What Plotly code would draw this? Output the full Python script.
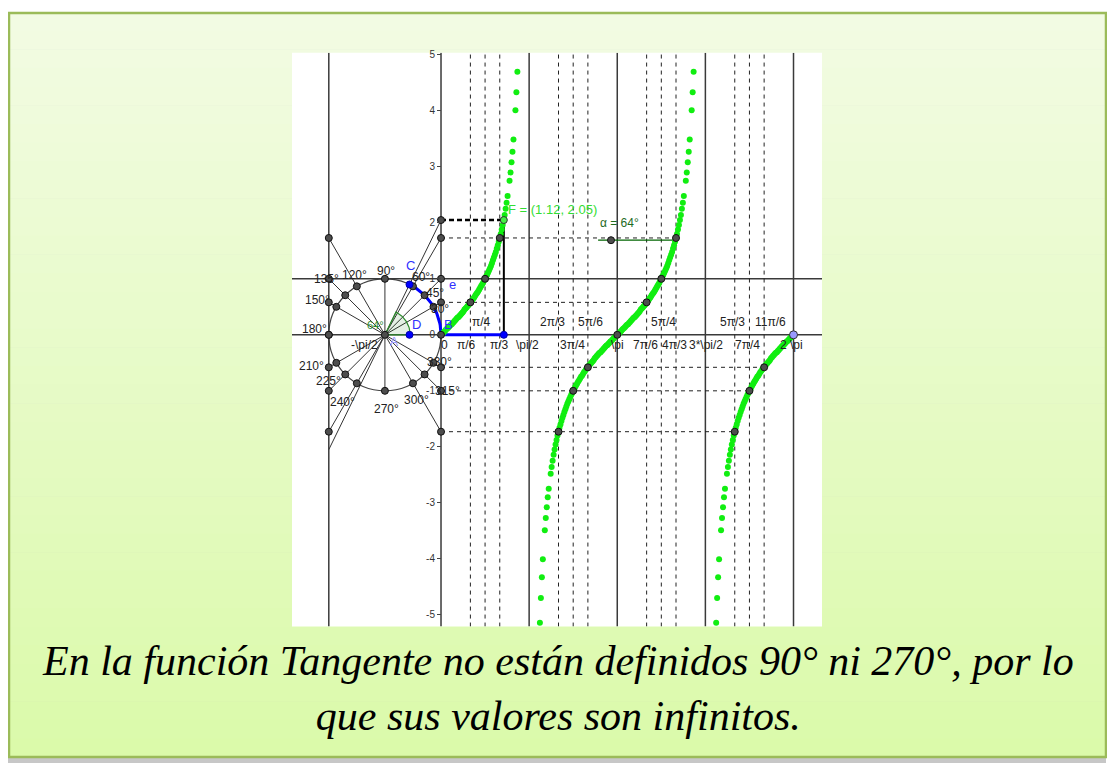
import numpy as np
import plotly.graph_objects as go

W, H = 1115, 776
# the page body adds a small margin, so the figure is drawn a bit smaller and
# all screen positions are shifted by this offset
OX, OY = 8, 10
FW, FH = W - 2 * OX, H - OY - 8

# ---------------- values ----------------
# green trace: one dot per degree, tan for 0..79 deg (other branches mirror it)
TAN_TABLE = [0.00, 0.02, 0.03, 0.05, 0.07, 0.09, 0.11, 0.12, 0.14, 0.16,
             0.18, 0.19, 0.21, 0.23, 0.25, 0.27, 0.29, 0.31, 0.32, 0.34,
             0.36, 0.38, 0.40, 0.42, 0.45, 0.47, 0.49, 0.51, 0.53, 0.55,
             0.58, 0.60, 0.62, 0.65, 0.67, 0.70, 0.73, 0.75, 0.78, 0.81,
             0.84, 0.87, 0.90, 0.93, 0.97, 1.00, 1.04, 1.07, 1.11, 1.15,
             1.19, 1.23, 1.28, 1.33, 1.38, 1.43, 1.48, 1.54, 1.60, 1.66,
             1.73, 1.80, 1.88, 1.96, 2.05, 2.14, 2.25, 2.36, 2.48, 2.61,
             2.75, 2.90, 3.08, 3.27, 3.49, 3.73, 4.01, 4.33, 4.70, 5.14]
SKIPPED = [69, 75]                       # frames missing from the trace
BRANCHES = [(0, 78), (101, 258), (281, 360)]

SPECIAL_DEG = [30, 45, 60, 120, 135, 150, 210, 225, 240, 300, 315, 330]
SPECIAL_TAN = [0.58, 1.00, 1.73, -1.73, -1.00, -0.58,
               0.58, 1.00, 1.73, -1.73, -1.00, -0.58]

CIRCLE_DEG = [30, 45, 60, 90, 120, 135, 150, 180, 210, 225, 240, 270, 300, 315, 330]
CIRCLE_LABELS = ["30°", "45°", "60°", "90°", "120°", "135°", "150°", "180°",
                 "210°", "225°", "240°", "270°", "300°", "315°", "330°"]

RAY_TAN = [0.58, 1.00, 1.73, 2.05, -1.73, -1.00, -0.58]   # lines through A
AXIS_TAN = [2.05, 1.73, 1.00, 0.58, 0.00, -0.58, -1.00, -1.73]   # dots on x = 0
LEFT_TAN = [1.73, 1.00, 0.58, 0.00, -0.58, -1.00, -1.73]          # dots on x = -2

HDASH_TAN = [0.58, 1.73, -0.58, -1.00, -1.73]
HDASH_TO_DEG = [210, 240, 330, 315, 300]

ALPHA = 64
F_POINT = (1.12, 2.05)
SLIDER_VAL = 3.03

YTICKS = [-5, -4, -3, -2, -1, 0, 1, 2, 3, 4, 5]
X_LABELS_BELOW = ["0", "π/6", "π/3", "\\pi/2", "3π/4", "\\pi", "7π/6", "4π/3",
                  "3*\\pi/2", "7π/4", "2 \\pi", "-\\pi/2"]
X_LABELS_ABOVE = ["π/4", "2π/3", "5π/6", "5π/4", "5π/3", "11π/6"]

CAPTION = ["En la función Tangente no están definidos 90° ni 270°, por lo",
           "que sus valores son infinitos."]

# ---------------- label placement (layout only) ----------------
BELOW_X = [0.07, 0.45, 1.05, 1.55, 2.35, 3.14, 3.65, 4.16, 4.73, 5.47, 6.24, -1.36]
ABOVE_X = [0.73, 1.98, 2.67, 3.96, 5.20, 5.88]
DEG_LABEL_POS = [(-0.02, 0.46), (-0.11, 0.75), (-0.36, 1.04), (-0.98, 1.14),
                 (-1.55, 1.07), (-2.05, 1.00), (-2.21, 0.62), (-2.25, 0.11),
                 (-2.30, -0.56), (-2.00, -0.83), (-1.75, -1.20), (-0.98, -1.32),
                 (-0.43, -1.16), (0.11, -1.00), (-0.02, -0.48)]

X_RANGE = [-2.656, 6.791]
Y_RANGE = [-5.21, 5.036]

DARK = "#3a3a3a"
GREEN = "#11ee11"


def rad(d):
    return d * np.pi / 180


def seg_trace(xs, ys, color, width, dash="solid"):
    return go.Scatter(x=xs, y=ys, mode="lines", hoverinfo="skip", showlegend=False,
                      line=dict(color=color, width=width, dash=dash))


# screen pixel -> paper fraction
def px(x):
    return (x - OX) / FW


def py(y):
    return 1 - (y - OY) / FH


data = []

# solid full-height lines: x = -2, y axis, and the multiples of pi/2
vx, vy = [], []
for x in [-2, 0, rad(90), rad(180), rad(270), rad(360)]:
    vx += [x, x, None]
    vy += [Y_RANGE[0], Y_RANGE[1], None]
for y in [0, 1]:
    vx += [X_RANGE[0], X_RANGE[1], None]
    vy += [y, y, None]
data.append(seg_trace(vx, vy, DARK, 1.5))

# dashed verticals at the special angles
dx, dy = [], []
for d in SPECIAL_DEG:
    dx += [rad(d), rad(d), None]
    dy += [Y_RANGE[0], Y_RANGE[1], None]
# dashed horizontals from the y axis to the curve
for t, d in zip(HDASH_TAN, HDASH_TO_DEG):
    dx += [0, rad(d), None]
    dy += [t, t, None]
data.append(seg_trace(dx, dy, "#222", 1, "4px,4px"))

# rays through A = (-1, 0), from x=-2 to x=0
rx, ry = [], []
for t in RAY_TAN:
    rx += [-2, 0, None]
    ry += [-t, t, None]
rx += [-1, -1, None]
ry += [1, -1, None]
data.append(seg_trace(rx, ry, "#333", 1))

# angle sector at A
ang = np.linspace(0, rad(ALPHA), 30)
data.append(go.Scatter(x=np.r_[-1, -1 + 0.45 * np.cos(ang), -1],
                       y=np.r_[0, 0.45 * np.sin(ang), 0],
                       mode="lines", fill="toself", fillcolor="rgba(0,110,0,0.10)",
                       line=dict(color="#2e8b2e", width=1.2), hoverinfo="skip",
                       showlegend=False))

# blue arc on the circle and blue segment on the x axis
arc = np.linspace(0, rad(ALPHA), 40)
data.append(seg_trace(-1 + np.cos(arc), np.sin(arc), "#0000ff", 3))
data.append(seg_trace([0, F_POINT[0]], [0, 0], "#0000ff", 3))

# F construction
data.append(seg_trace([0, F_POINT[0]], [F_POINT[1], F_POINT[1]], "#000", 2.5, "5px,3px"))
data.append(seg_trace([F_POINT[0], F_POINT[0]], [0, F_POINT[1]], "#000", 2))

# slider
data.append(seg_trace([2.80, 4.17], [1.69, 1.69], "#006400", 1.3))

# green trace of tan(x)
tx, ty = [], []
for a, b in BRANCHES:
    for d in range(a, b + 1):
        k = d % 180
        idx = k if k <= 90 else 180 - k
        if idx in SKIPPED:
            continue
        tx.append(rad(d))
        ty.append(TAN_TABLE[idx] if k <= 90 else -TAN_TABLE[idx])
data.append(go.Scatter(x=tx, y=ty, mode="markers", hoverinfo="skip", showlegend=False,
                       marker=dict(color=GREEN, size=6, line=dict(width=0))))

# dark points
ptx, pty = [], []
ptx += [rad(d) for d in SPECIAL_DEG] + [rad(180)]
pty += SPECIAL_TAN + [0]
ptx += [-1 + np.cos(rad(d)) for d in CIRCLE_DEG] + [-1]
pty += [np.sin(rad(d)) for d in CIRCLE_DEG] + [0]
ptx += [0] * len(AXIS_TAN) + [-2] * len(LEFT_TAN)
pty += AXIS_TAN + LEFT_TAN
ptx += [SLIDER_VAL]
pty += [1.69]
data.append(go.Scatter(x=ptx, y=pty, mode="markers", hoverinfo="skip", showlegend=False,
                       marker=dict(color="#4d4d4d", size=7, line=dict(color="#111", width=1))))

# blue points C, D and foot of F
data.append(go.Scatter(x=[-1 + np.cos(rad(ALPHA)), -1 + np.cos(rad(ALPHA)), F_POINT[0]],
                       y=[np.sin(rad(ALPHA)), 0, 0], mode="markers", hoverinfo="skip",
                       showlegend=False,
                       marker=dict(color="#0000ff", size=7, line=dict(color="#0000aa", width=1))))
data.append(go.Scatter(x=[F_POINT[0]], y=[F_POINT[1]], mode="markers", hoverinfo="skip",
                       showlegend=False,
                       marker=dict(color="#44ee44", size=7, line=dict(color="#333", width=1))))
data.append(go.Scatter(x=[rad(360)], y=[0], mode="markers", hoverinfo="skip",
                       showlegend=False,
                       marker=dict(color="#9999ff", size=8, line=dict(color="#333", width=1))))

fig = go.Figure(data=data)

# ---------------- background slide ----------------
shapes = []
shapes.append(dict(type="rect", xref="paper", yref="paper", layer="below",
                   x0=px(5), x1=px(1106), y0=py(765), y1=py(11),
                   fillcolor="rgba(0,0,0,0.22)", line=dict(width=0)))
n = 40
top, bot = np.array([243, 252, 228]), np.array([219, 250, 170])
y_top, y_bot = 11, 759
for i in range(n):
    c = top + (bot - top) * (i + 0.5) / n
    y0 = y_top + (y_bot - y_top) * i / n
    y1 = y_top + (y_bot - y_top) * (i + 1) / n + 0.6
    shapes.append(dict(type="rect", xref="paper", yref="paper", layer="below",
                       x0=px(8), x1=px(1108), y0=py(y1), y1=py(y0),
                       fillcolor=f"rgb({int(c[0])},{int(c[1])},{int(c[2])})",
                       line=dict(width=0)))
shapes.append(dict(type="rect", xref="paper", yref="paper", layer="below",
                   x0=px(9), x1=px(1106), y0=py(y_bot), y1=py(y_top + 1),
                   fillcolor="rgba(0,0,0,0)", line=dict(color="#9bbb59", width=2.5)))
shapes.append(dict(type="rect", xref="paper", yref="paper", layer="below",
                   x0=px(292), x1=px(822), y0=py(628), y1=py(52),
                   fillcolor="white", line=dict(width=0)))
# unit circle centred at A
shapes.append(dict(type="circle", xref="x", yref="y", layer="below",
                   x0=-2, x1=0, y0=-1, y1=1, line=dict(color="#444", width=1.2)))

# ---------------- labels ----------------
ann = []
lab_font = dict(family="Liberation Sans, Arial", size=12, color="#222")
for t, x in zip(X_LABELS_BELOW, BELOW_X):
    ann.append(dict(x=x, y=-0.19, xref="x", yref="y", text=t, showarrow=False, font=lab_font))
for t, x in zip(X_LABELS_ABOVE, ABOVE_X):
    ann.append(dict(x=x, y=0.23, xref="x", yref="y", text=t, showarrow=False, font=lab_font))
for t, (x, y) in zip(CIRCLE_LABELS, DEG_LABEL_POS):
    ann.append(dict(x=x, y=y, xref="x", yref="y", text=t, showarrow=False, font=lab_font))

blue_font = dict(family="Liberation Sans, Arial", size=13, color="#3030ff")
for t, x, y in [("C", -0.55, 1.24), ("D", -0.43, 0.18), ("B", 0.14, 0.18), ("e", 0.20, 0.89)]:
    ann.append(dict(x=x, y=y, xref="x", yref="y", text=t, showarrow=False, font=blue_font))
ann.append(dict(x=-0.84, y=-0.12, xref="x", yref="y", text="A", showarrow=False,
                font=dict(family="Liberation Sans, Arial", size=12, color="#9999ff")))
ann.append(dict(x=-1.17, y=0.17, xref="x", yref="y", text=f"{ALPHA}°", showarrow=False,
                font=dict(family="Liberation Sans, Arial", size=11, color="#2e8b2e")))
ann.append(dict(x=1.16, y=2.23, xref="x", yref="y", xanchor="left",
                text=f"F = ({F_POINT[0]:.2f}, {F_POINT[1]:.2f})", showarrow=False,
                font=dict(family="Liberation Sans, Arial", size=13, color="#33dd33")))
ann.append(dict(x=3.19, y=2.0, xref="x", yref="y",
                text=f"α = {ALPHA}°", showarrow=False,
                font=dict(family="Liberation Sans, Arial", size=12, color="#1f6b1f")))

# caption as one two-line text block
cap_font = dict(family="Liberation Serif, DejaVu Serif", size=42, color="#000")
ann.append(dict(x=px(558), y=py(690), xref="paper", yref="paper",
                text="<br>".join(f"<i>{line}</i>" for line in CAPTION),
                showarrow=False, font=cap_font, xanchor="center", yanchor="middle"))

fig.update_layout(
    width=FW, height=FH,
    margin=dict(l=0, r=0, t=0, b=0),
    paper_bgcolor="white",
    plot_bgcolor="rgba(0,0,0,0)",
    showlegend=False,
    shapes=shapes,
    annotations=ann,
    xaxis=dict(domain=[px(292), px(822)], range=X_RANGE, visible=False,
               showgrid=False, zeroline=False),
    yaxis=dict(domain=[py(628), py(52)], range=Y_RANGE, anchor="free", position=px(441),
               showgrid=False, zeroline=False, showline=False,
               ticks="outside", ticklen=4, tickcolor="#444", tickwidth=1,
               tickvals=YTICKS, ticktext=[str(v) for v in YTICKS],
               tickfont=dict(family="Liberation Sans, Arial", size=10, color="#333")),
)

fig.write_html("out.html")
